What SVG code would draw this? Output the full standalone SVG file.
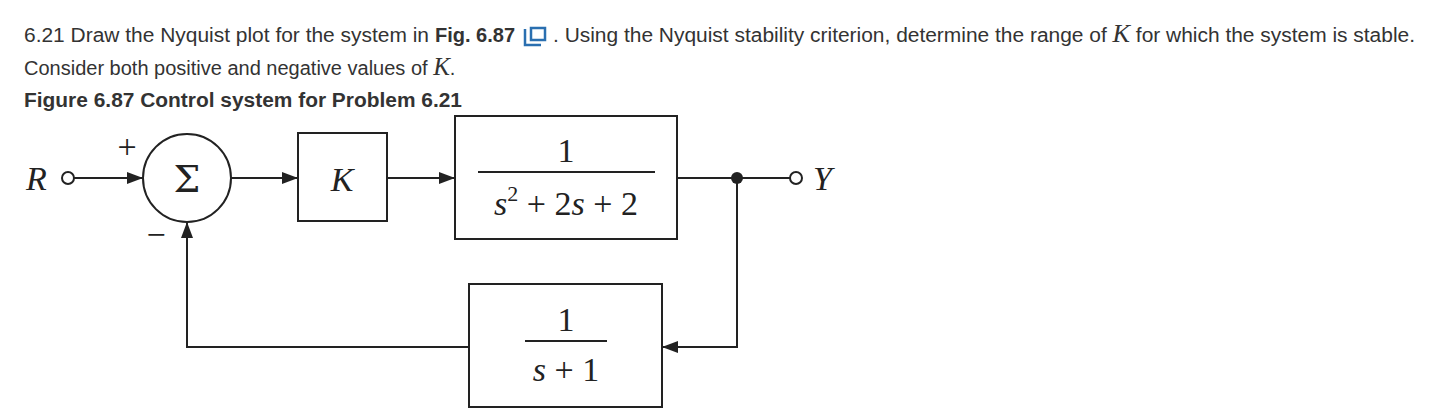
<svg xmlns="http://www.w3.org/2000/svg" width="1456" height="412" viewBox="0 0 1456 412">
<style>
.t{font-family:"Liberation Sans",Arial,sans-serif;font-size:20px;fill:#333}
.m{font-family:"Liberation Serif","Times New Roman",serif;font-style:italic}
.d{font-family:"Liberation Serif","Times New Roman",serif;font-size:34px;fill:#222}
.b{fill:#fff;stroke:#222;stroke-width:2}
.l{fill:none;stroke:#222;stroke-width:2}
</style>
<defs><marker id="a" markerWidth="16" markerHeight="12" refX="16" refY="6" orient="auto" markerUnits="userSpaceOnUse"><path d="M0,0 L16,6 L0,12 z" fill="#222"/></marker></defs>
<rect width="1456" height="412" fill="#fff"/>
<text class="t" x="24" y="42" textLength="405" lengthAdjust="spacingAndGlyphs">6.21 Draw the Nyquist plot for the system in</text>
<text class="t" x="435" y="42" fill="#1f5c99" font-weight="bold">Fig. 6.87</text>
<g fill="none" stroke="#2a6fb0" stroke-width="2.5"><path d="M525,29 V45 H541"/><rect x="531" y="28" width="14" height="12"/></g>
<text class="t" x="553" y="42" textLength="862" lengthAdjust="spacingAndGlyphs">. Using the Nyquist stability criterion, determine the range of <tspan class="m" font-size="25">K</tspan> for which the system is stable.</text>
<text class="t" x="24" y="75">Consider both positive and negative values of <tspan class="m" font-size="25">K</tspan>.</text>
<text class="t" x="24" y="107" font-weight="bold" fill="#444" textLength="438" lengthAdjust="spacingAndGlyphs">Figure 6.87 Control system for Problem 6.21</text>
<g id="connectors">
<circle cx="68" cy="178" r="6" class="l"/>
<line x1="74" y1="178" x2="143" y2="178" class="l" marker-end="url(#a)"/>
<line x1="231" y1="178" x2="298" y2="178" class="l" marker-end="url(#a)"/>
<line x1="387" y1="178" x2="455" y2="178" class="l" marker-end="url(#a)"/>
<line x1="677" y1="178" x2="790" y2="178" class="l"/>
<circle cx="737" cy="178" r="6" fill="#222"/>
<circle cx="796" cy="178" r="6" class="l"/>
<polyline points="737,178 737,347 662,347" class="l" marker-end="url(#a)"/>
<polyline points="469,347 187,347 187,222" class="l" marker-end="url(#a)"/>
</g>
<text class="d m" x="26" y="190">R</text>
<text class="d m" x="813" y="190">Y</text>
<g id="sum"><circle cx="187" cy="178" r="44" class="b"/><text x="187" y="192" font-family="'DejaVu Serif',serif" font-size="38" fill="#222" text-anchor="middle">Σ</text>
<text class="d" x="127" y="158" text-anchor="middle">+</text><text class="d" x="156" y="246" text-anchor="middle">−</text></g>
<g id="k"><rect x="298" y="133" width="89" height="88" class="b"/><text class="d m" x="342" y="191" text-anchor="middle">K</text></g>
<g id="plant"><rect x="455" y="116" width="222" height="123" class="b"/><text class="d" x="566" y="162" text-anchor="middle">1</text><line x1="478" y1="172" x2="655" y2="172" class="l" stroke-width="1.5"/><text class="d" x="566" y="215" text-anchor="middle"><tspan class="m">s</tspan><tspan font-size="22" dy="-14">2</tspan><tspan dy="14"> + 2</tspan><tspan class="m">s</tspan> + 2</text></g>
<g id="feedback"><rect x="469" y="284" width="193" height="123" class="b"/><text class="d" x="566" y="331" text-anchor="middle">1</text><line x1="525" y1="341" x2="607" y2="341" class="l" stroke-width="1.5"/><text class="d" x="566" y="381" text-anchor="middle"><tspan class="m">s</tspan> + 1</text></g>
</svg>
